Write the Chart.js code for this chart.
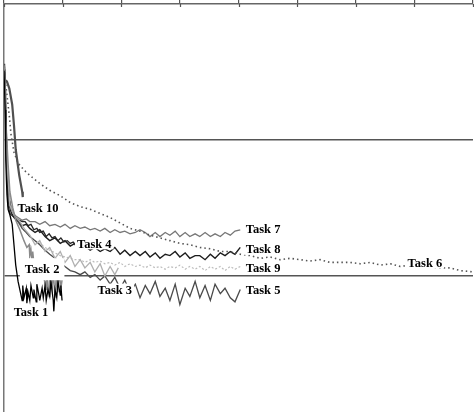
<!DOCTYPE html>
<html>
<head>
<meta charset="utf-8">
<script src="https://cdn.jsdelivr.net/npm/chart.js@4.4.0/dist/chart.umd.min.js"></script>
<style>
  body { margin: 0; background: #fff; }
  #wrap { width: 474px; height: 412px; }
</style>
</head>
<body>
<div id="wrap"><canvas id="chart"></canvas></div>
<script>
// iterations (x) and log10 error (y)
const stepX = [1, 4, 7, 12, 17, 24, 31, 38, 44, 53, 61, 70, 78, 87, 96, 104, 113, 121, 130, 138, 147, 155, 164, 172, 181, 189, 198, 206, 215, 224, 232, 241, 249, 258, 266, 275, 283, 292, 300, 309, 317, 326, 334, 343, 352, 360, 369, 377, 386, 394, 403];

const task1X = [0, 2, 3, 5, 7, 10, 14, 17, 20, 24, 27, 31, 32, 34, 38, 39, 41, 44, 46, 50, 51, 55, 56, 60, 61, 65, 67, 70, 72, 75, 78, 80, 84, 85, 87, 90, 92, 96, 97, 99];
const task1Y = [-0.49, -0.78, -1.15, -1.40, -1.51, -1.55, -1.62, -1.77, -1.92, -2.04, -2.10, -2.18, -2.07, -2.16, -2.09, -2.20, -2.12, -2.18, -2.07, -2.16, -2.10, -2.19, -2.06, -2.15, -2.18, -2.09, -2.16, -2.07, -2.18, -2.10, -2.15, -2.04, -2.18, -2.26, -2.10, -2.16, -2.04, -2.14, -2.07, -2.18];

const task2X = [0, 2, 3, 7, 10, 15, 20, 27, 34, 39, 43, 44, 46, 48, 49, 51, 55, 61, 68, 72, 73, 77, 78, 82, 84, 87, 89, 92, 94, 97, 99];
const task2Y = [-0.45, -0.63, -0.85, -1.18, -1.38, -1.50, -1.59, -1.66, -1.74, -1.79, -1.77, -1.85, -1.81, -1.90, -1.82, -1.91, -1.93, -1.97, -2.01, -2.10, -1.97, -2.15, -1.99, -2.10, -1.96, -2.16, -2.01, -2.12, -1.96, -2.09, -2.03];

const task3X = [0, 3, 7, 10, 17, 27, 36, 44, 53, 61, 70, 78, 87, 96, 104, 113, 121, 130, 138, 147, 155, 164, 172, 181, 189, 195];
const task3Y = [-0.47, -0.93, -1.29, -1.48, -1.55, -1.60, -1.66, -1.70, -1.77, -1.74, -1.82, -1.79, -1.87, -1.82, -1.90, -1.85, -1.93, -1.88, -1.94, -1.90, -1.97, -1.91, -2.00, -1.93, -1.99, -1.94];

const task4X = [1, 4, 7, 10, 15, 20, 26, 31, 36, 41, 46, 51, 56, 61, 67, 72, 77, 82, 87, 92, 97, 102, 108, 113, 118, 123];
const task4Y = [-0.48, -1.02, -1.48, -1.54, -1.56, -1.57, -1.59, -1.60, -1.60, -1.63, -1.62, -1.66, -1.65, -1.68, -1.67, -1.71, -1.69, -1.72, -1.71, -1.74, -1.72, -1.75, -1.74, -1.76, -1.75, -1.78];

const task5Y = [-0.44, -0.95, -1.37, -1.50, -1.54, -1.60, -1.65, -1.68, -1.71, -1.74, -1.77, -1.81, -1.84, -1.87, -1.90, -1.93, -1.96, -1.97, -1.99, -1.97, -2.01, -1.99, -2.03, -2.00, -2.06, -2.01, -2.09, -2.03, -2.12, -2.06, -2.16, -2.07, -2.13, -2.04, -2.15, -2.09, -2.18, -2.06, -2.21, -2.09, -2.15, -2.04, -2.16, -2.07, -2.18, -2.06, -2.13, -2.09, -2.16, -2.19, -2.10];

const task6X = [2, 5, 9, 12, 17, 24, 34, 44, 61, 78, 96, 113, 130, 147, 164, 181, 198, 215, 232, 249, 266, 283, 300, 317, 334, 352, 369, 386, 403, 420, 437, 454, 471, 488, 505, 522, 539, 556, 573, 590, 608, 625, 642, 659, 676, 693, 710, 744, 761, 778, 800];
const task6Y = [-0.56, -0.67, -0.82, -0.96, -1.09, -1.17, -1.22, -1.26, -1.32, -1.37, -1.41, -1.46, -1.49, -1.51, -1.54, -1.57, -1.61, -1.65, -1.67, -1.70, -1.72, -1.74, -1.76, -1.77, -1.79, -1.80, -1.82, -1.82, -1.84, -1.85, -1.87, -1.86, -1.88, -1.87, -1.88, -1.89, -1.88, -1.90, -1.90, -1.90, -1.91, -1.90, -1.92, -1.91, -1.93, -1.92, -1.93, -1.94, -1.94, -1.96, -1.97];

const task7Y = [-0.46, -1.00, -1.44, -1.51, -1.55, -1.57, -1.59, -1.58, -1.60, -1.60, -1.62, -1.60, -1.63, -1.62, -1.64, -1.62, -1.65, -1.63, -1.65, -1.64, -1.66, -1.65, -1.67, -1.65, -1.68, -1.66, -1.68, -1.67, -1.69, -1.68, -1.66, -1.68, -1.71, -1.68, -1.71, -1.68, -1.70, -1.67, -1.71, -1.68, -1.71, -1.69, -1.71, -1.68, -1.71, -1.69, -1.71, -1.68, -1.70, -1.67, -1.66];

const task8Y = [-0.50, -1.05, -1.44, -1.53, -1.57, -1.60, -1.63, -1.62, -1.65, -1.68, -1.66, -1.71, -1.74, -1.72, -1.76, -1.74, -1.78, -1.76, -1.79, -1.78, -1.81, -1.79, -1.82, -1.80, -1.82, -1.79, -1.84, -1.81, -1.85, -1.82, -1.85, -1.82, -1.86, -1.83, -1.87, -1.84, -1.85, -1.82, -1.86, -1.83, -1.87, -1.85, -1.85, -1.88, -1.84, -1.87, -1.83, -1.85, -1.82, -1.84, -1.79];

const task9Y = [-0.48, -0.90, -1.33, -1.48, -1.54, -1.59, -1.65, -1.68, -1.71, -1.74, -1.76, -1.79, -1.81, -1.83, -1.85, -1.86, -1.87, -1.88, -1.88, -1.90, -1.88, -1.90, -1.89, -1.91, -1.90, -1.92, -1.90, -1.93, -1.91, -1.93, -1.92, -1.94, -1.92, -1.94, -1.93, -1.95, -1.93, -1.94, -1.92, -1.95, -1.93, -1.95, -1.93, -1.96, -1.93, -1.95, -1.93, -1.96, -1.93, -1.95, -1.93];

const task10X = [2, 5, 9, 14, 17, 20, 26, 31, 32];
const task10Y = [-0.56, -0.57, -0.62, -0.74, -0.89, -1.07, -1.26, -1.38, -1.42];

// where each "Task n" label sits, in data units
const labelText = ["Task 1", "Task 2", "Task 3", "Task 4", "Task 5", "Task 6", "Task 7", "Task 8", "Task 9", "Task 10"];
const labelX = [46, 65, 189, 154, 442, 718, 442, 442, 442, 58];
const labelY = [-2.26, -1.95, -2.10, -1.76, -2.10, -1.90, -1.65, -1.80, -1.94, -1.50];

function pts(xs, ys) {
    return xs.map((x, i) => ({ x: x, y: ys[i] }));
}

function line(data, color, width, dash) {
    return {
        data: data,
        borderColor: color,
        borderWidth: width,
        borderDash: dash || [],
        pointRadius: 0,
        tension: 0,
        fill: false
    };
}

const datasets = [
    line(pts(task1X, task1Y), '#000000', 1.3),
    line(pts(task2X, task2Y), '#8a8a8a', 1.5),
    line(pts(task3X, task3Y), '#b0b0b0', 1.3),
    line(pts(task4X, task4Y), '#262626', 1.3),
    line(pts(stepX, task5Y), '#4a4a4a', 1.3),
    line(pts(task6X, task6Y), '#555555', 1.6, [1.5, 3]),
    line(pts(stepX, task7Y), '#777777', 1.3),
    line(pts(stepX, task8Y), '#1c1c1c', 1.4),
    line(pts(stepX, task9Y), '#bdbdbd', 1.2, [2, 2]),
    line(pts(task10X, task10Y), '#505050', 2.2)
];

// labels sit on small white boxes that hide the lines beneath
const taskLabels = {
    id: 'taskLabels',
    afterDatasetsDraw(chart) {
        const ctx = chart.ctx;
        const xs = chart.scales.x, ys = chart.scales.y;
        ctx.save();
        // top axis ticks cross the axis line a little
        ctx.strokeStyle = '#555555';
        ctx.lineWidth = 1.2;
        xs.ticks.forEach(tk => {
            const px = Math.round(xs.getPixelForValue(tk.value)) + 0.5;
            ctx.beginPath();
            ctx.moveTo(px, chart.chartArea.top);
            ctx.lineTo(px, chart.chartArea.top + 3);
            ctx.stroke();
        });
        ctx.font = 'bold 12.5px "Liberation Serif", "Times New Roman", serif';
        ctx.textAlign = 'center';
        ctx.textBaseline = 'middle';
        labelText.forEach((t, i) => {
            const px = xs.getPixelForValue(labelX[i]);
            const py = ys.getPixelForValue(labelY[i]);
            const w = ctx.measureText(t).width;
            const padX = t === 'Task 2' ? 5 : 2;
            const padY = t === 'Task 2' ? 6 : 1;
            ctx.fillStyle = '#ffffff';
            ctx.fillRect(px - w / 2 - padX, py - 5 - padY, w + padX * 2, 10 + padY * 2);
            ctx.fillStyle = '#000000';
            ctx.fillText(t, px, py + 1);
        });
        ctx.restore();
    }
};

new Chart(document.getElementById('chart'), {
    type: 'line',
    data: { datasets: datasets },
    options: {
        responsive: true,
        maintainAspectRatio: false,
        animation: false,
        layout: { padding: { left: 4, right: 1, top: 0, bottom: 0 } },
        plugins: { legend: { display: false }, tooltip: { enabled: false } },
        scales: {
            x: {
                type: 'linear',
                position: 'top',
                min: 0,
                max: 800,
                ticks: { stepSize: 100, display: false },
                grid: { drawOnChartArea: false, drawTicks: true, tickLength: 4, color: '#555555', lineWidth: 1.2 },
                border: { display: true, color: '#666666', width: 1.5 }
            },
            y: {
                type: 'linear',
                min: -3,
                max: 0,
                ticks: { stepSize: 1, display: false },
                grid: {
                    drawTicks: false,
                    lineWidth: 1.5,
                    color: c => (c.tick.value === -1 || c.tick.value === -2) ? '#555555' : 'rgba(0,0,0,0)'
                },
                border: { display: true, color: '#777777', width: 1.5 }
            }
        }
    },
    plugins: [taskLabels]
});
</script>
</body>
</html>
